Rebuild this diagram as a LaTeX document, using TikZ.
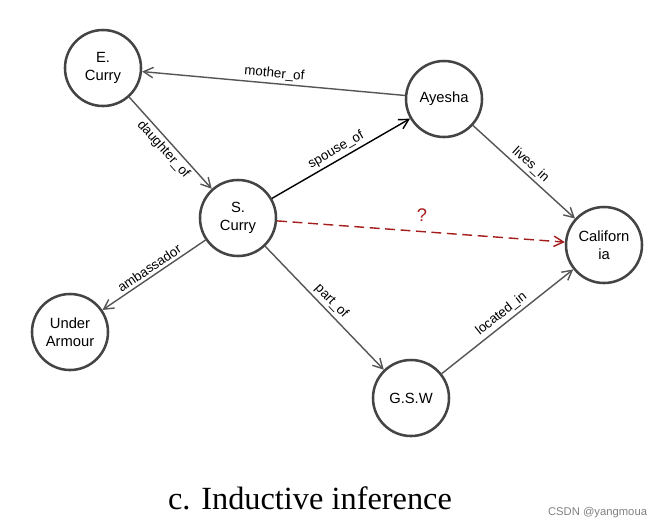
\documentclass[tikz,border=0pt]{standalone}
\usepackage{fontspec}
\setmainfont{Liberation Sans}
\newfontfamily\capfont{Liberation Serif}
\usetikzlibrary{arrows.meta}
\definecolor{ringgray}{HTML}{444444}
\definecolor{linegray}{HTML}{555555}
\definecolor{qred}{HTML}{A51C1C}
\tikzset{
  entity/.style={circle, draw=ringgray, line width=1.8pt, minimum size=1.9cm,
    align=center, font=\fontsize{10.5}{12.5}\selectfont, inner sep=0pt},
  rel/.style={draw=linegray, line width=1pt, -{Straight Barb[length=2.4mm,width=2.6mm]}},
  lab/.style={sloped, font=\fontsize{9.5}{11}\selectfont, inner sep=2pt}
}
\begin{document}
\begin{tikzpicture}[x=0.025cm, y=-0.025cm]
  \useasboundingbox (0,0) rectangle (658,529);

  \node[entity] (ecurry) at (103,68) {E.\\Curry};
  \node[entity] (ayesha) at (444,99) {Ayesha};
  \node[entity] (scurry) at (238,218) {S.\\Curry};
  \node[entity] (calif) at (604,245) {Californ\\ia};
  \node[entity] (under) at (70,332) {Under\\Armour};
  \node[entity] (gsw) at (411,398) {G.S.W};

  \draw[rel] (ayesha) -- node[lab, above] {mother\_of} (ecurry);
  \draw[rel] (ecurry) -- node[lab, below] {daughter\_of} (scurry);
  \draw[rel, draw=black] (scurry) -- node[lab, above] {spouse\_of} (ayesha);
  \draw[rel] (ayesha) -- node[lab, above] {lives\_in} (calif);
  \draw[rel] (scurry) -- node[lab, above] {ambassador} (under);
  \draw[rel] (scurry) -- node[lab, above] {part\_of} (gsw);
  \draw[rel] (gsw) -- node[lab, above] {located\_in} (calif);
  \draw[rel, draw=qred, dashed, dash pattern=on 7pt off 4pt] (scurry) -- (calif);
  \node[text=qred, font=\fontsize{13}{15}\selectfont] (quest) at (422,215) {?};

  \node[font=\capfont\fontsize{23}{26}\selectfont] (caption) at (310,498) {c. Inductive inference};
  \node[text=gray, font=\fontsize{8}{10}\selectfont, anchor=east] (mark) at (652,513) {CSDN @yangmoua};
\end{tikzpicture}
\end{document}
